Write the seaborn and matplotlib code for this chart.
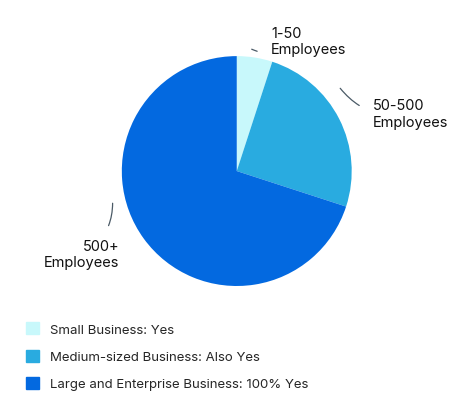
import matplotlib
matplotlib.use("Agg")
import matplotlib.pyplot as plt
import matplotlib.patches as mpatches
import seaborn as sns

sizes = [5, 25, 70]
slice_labels = ["1-50\nEmployees", "50-500\nEmployees", "500+\nEmployees"]
legend_labels = ["Small Business: Yes", "Medium-sized Business: Also Yes",
                 "Large and Enterprise Business: 100% Yes"]
colors = ["#c8f8fb", "#29abe0", "#0369e0"]

sns.set_theme(style="white")
plt.rcParams["font.family"] = ["Inter", "DejaVu Sans"]

fig = plt.figure(figsize=(4.74, 4.02), dpi=100)
ax = fig.add_axes([0.257, 0.286, 0.485, 0.572])
wedges, _ = ax.pie(sizes, colors=colors, startangle=90, counterclock=False,
                   radius=1.0, wedgeprops=dict(linewidth=0))
ax.set_aspect("equal")
ax.set_xlim(-1, 1)
ax.set_ylim(-1, 1)

# text positions and anchor points (axes data coords)
tx = [(0.30, 1.13), (1.18, 0.50), (-1.02, -0.72)]
anchors = [(0.13, 1.06), (0.90, 0.72), (-1.08, -0.28)]
ha = ["left", "left", "right"]
for lab, (x, y), a, h in zip(slice_labels, tx, anchors, ha):
    ax.annotate(lab, xy=a, xytext=(x, y), ha=h, va="center", fontsize=10.5,
                color="#111111", annotation_clip=False,
                arrowprops=dict(arrowstyle="-", color="#4a5a66", lw=0.9,
                                connectionstyle="arc3,rad=-0.3" if h == "left" else "arc3,rad=0.3",
                                shrinkA=8, shrinkB=0))

handles = [mpatches.Patch(color=c, label=l) for c, l in zip(colors, legend_labels)]
fig.legend(handles=handles, loc="upper left", bbox_to_anchor=(0.03, 0.225),
           frameon=False, fontsize=9.5, handlelength=1.0, handleheight=1.0,
           labelspacing=1.05, handletextpad=0.8)

fig.savefig("out.png", dpi=100)
